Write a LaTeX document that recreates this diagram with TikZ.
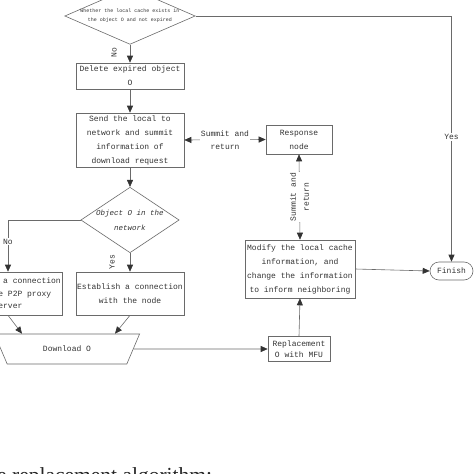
\documentclass[tikz,border=0pt]{standalone}
\usepackage{fontspec}
\usepackage{tikz}
\usetikzlibrary{shapes.geometric, arrows.meta, calc}
\newfontfamily\boxfont{Liberation Mono}
\newfontfamily\capfont{Liberation Serif}
\definecolor{colorLinea}{HTML}{6A6A6A}
\definecolor{colorTexto}{HTML}{333333}

\begin{document}
\begin{tikzpicture}[x=1pt, y=-1pt,
        bx/.style={draw=colorLinea, line width=0.6pt, inner sep=1pt, align=center, text=colorTexto,
            font=\boxfont\fontsize{8}{14}\selectfont},
        dm/.style={bx, diamond, inner sep=0pt},
        rel/.style={-{Triangle[length=7pt, width=6pt, color=black!80]}, colorLinea, line width=0.6pt},
        dob/.style={{Triangle[length=7pt, width=6pt, color=black!80]}-{Triangle[length=7pt, width=6pt, color=black!80]}, colorLinea, line width=0.6pt},
        lab/.style={fill=white, inner sep=1pt, align=center, text=colorTexto, font=\boxfont\fontsize{8}{13}\selectfont}
    ]
    \useasboundingbox (0,0) rectangle (474,474);
    \node[dm, aspect=2.3, minimum width=125pt, minimum height=52pt, font=\boxfont\fontsize{5}{9}\selectfont] (chk) at (130,16) {Whether the local cache exists in\\the object O and not expired};
    \node[bx, minimum width=108pt, minimum height=26pt] (del) at (130,76) {Delete expired object\\O};
    \node[bx, minimum width=108pt, minimum height=54pt] (send) at (130,140) {Send the local to\\network and summit\\information of\\download request};
    \node[bx, minimum width=66pt, minimum height=29pt] (resp) at (299,139.5) {Response\\node};
    \node[dm, aspect=1.5, minimum width=96pt, minimum height=65pt, font=\boxfont\itshape\fontsize{7.5}{15}\selectfont] (net) at (130,220) {Object O in the\\network};
    \node[bx, minimum width=108pt, minimum height=43pt, font=\boxfont\fontsize{8}{12.5}\selectfont] (p2p) at (8,293.5) {Establish a connection\\with the P2P proxy\\server};
    \node[bx, minimum width=108pt, minimum height=43pt] (est) at (130,293.5) {Establish a connection\\with the node};
    \node[bx, trapezium, trapezium angle=56, shape border rotate=180, trapezium stretches=true, minimum width=146pt, minimum height=30pt] (dl) at (67,349) {Download O};
    \node[bx, minimum width=62pt, minimum height=25pt, font=\boxfont\fontsize{8}{11}\selectfont] (rep) at (299,349) {Replacement\\O with MFU};
    \node[bx, minimum width=110pt, minimum height=58pt] (mod) at (300,269) {Modify the local cache\\information, and\\change the information\\to inform neighboring};
    \node[bx, rounded corners=9pt, minimum width=43pt, minimum height=18pt] (fin) at (451.5,271) {Finish};
    \draw[rel] (chk.south) -- node[lab, fill=none, pos=0.45, xshift=-16pt, rotate=90] {No} (del.north);
    \draw[rel] (del.south) -- (send.north);
    \draw[dob] (send.east) -- node[lab] {Summit and\\return} (resp.west);
    \draw[rel] (send.south) -- (net.north);
    \draw[rel] (net.west) -| node[lab, pos=0.71] {No} (p2p.north);
    \draw[rel] (net.south) -- node[lab, fill=none, pos=0.5, xshift=-18pt, rotate=90] {Yes} (est.north);
    \draw[rel] (p2p.south) -- ($(dl.north)+(-45,0)$);
    \draw[rel] (est.south) -- ($(dl.north)+(48,0)$);
    \draw[rel] (dl.east) -- (rep.west);
    \draw[rel] (rep.north) -- (mod.south);
    \draw[dob] (resp.south) -- node[lab, rotate=90] {Summit and\\return} (mod.north);
    \draw[rel] (mod.east) -- (fin.west);
    \draw[rel] (chk.east) -| node[lab, pos=0.746] {Yes} (fin.north);
    \node[anchor=base west, inner sep=0pt, text=black!85, font=\capfont\fontsize{21.5}{24}\selectfont] (cap) at (-3,482) {e replacement algorithm:};
\end{tikzpicture}
\end{document}
